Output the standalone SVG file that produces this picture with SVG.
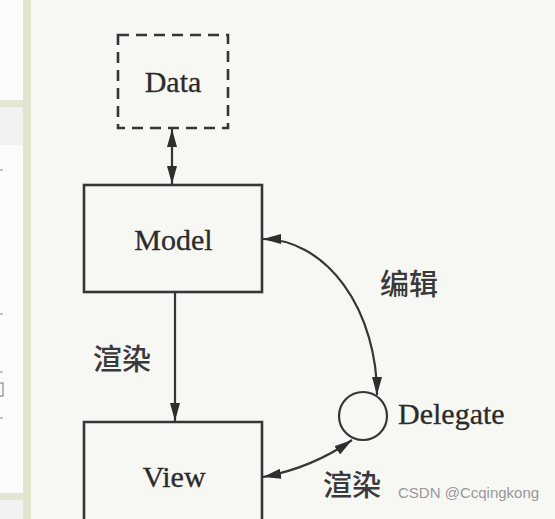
<svg xmlns="http://www.w3.org/2000/svg" width="555" height="519" viewBox="0 0 555 519">
  <style>
    .box{fill:none;stroke:#363636;stroke-width:2.6}
    .dash{fill:none;stroke:#363636;stroke-width:2.6;stroke-dasharray:11 7}
    .con{fill:none;stroke:#363636;stroke-width:2.2}
    .en{font-family:"Liberation Serif","Times New Roman",serif;font-size:30px;fill:#2b2b2b;stroke:#2b2b2b;stroke-width:0.3}
    .cjk{font-family:"Noto Sans CJK SC","Noto Sans CJK JP",sans-serif;font-size:29px;font-weight:500;fill:#3a3a3a}
    .wm{font-family:"Liberation Sans",Arial,sans-serif;font-size:15px;fill:#999}
    .tick{stroke:#888;stroke-width:1}
  </style>
  <defs>
    <marker id="ah" markerUnits="userSpaceOnUse" markerWidth="18" markerHeight="10" refX="18" refY="5" orient="auto-start-reverse">
      <path d="M0,0 L18,5 L0,10 z" fill="#2e2e2e"/>
    </marker>
  </defs>

  <!-- page background -->
  <rect x="0" y="0" width="555" height="519" fill="#f7f7f4"/>
  <rect x="0" y="0" width="23" height="519" fill="#fbfbfb"/>
  <rect x="0" y="100" width="23" height="7" fill="#e4e5d3"/>
  <rect x="0" y="107" width="23" height="38" fill="#f2f2f2"/>
  <rect x="0" y="493" width="23" height="7" fill="#e4e5d3"/>
  <rect x="0" y="500" width="23" height="19" fill="#f2f2f2"/>
  <rect x="23" y="0" width="8" height="519" fill="#e4e5cf"/>
  <g id="page-fragments">
    <line class="tick" x1="0" y1="170" x2="3" y2="170"/>
    <line class="tick" x1="0" y1="314" x2="3" y2="314"/>
    <line class="tick" x1="0" y1="372" x2="3" y2="372"/>
    <rect x="-1" y="383" width="4" height="13" fill="none" stroke="#777" stroke-width="1"/>
    <line class="tick" x1="0" y1="418" x2="3" y2="418"/>
  </g>

  <g id="connectors">
    <line class="con" x1="172" y1="129" x2="172" y2="184" marker-start="url(#ah)" marker-end="url(#ah)"/>
    <line class="con" x1="175" y1="293" x2="175" y2="421" marker-end="url(#ah)"/>
    <path class="con" d="M263,239 A114,156 0 0 1 377,395" marker-start="url(#ah)" marker-end="url(#ah)"/>
    <path class="con" d="M263,477 Q312,468 352,440" marker-start="url(#ah)" marker-end="url(#ah)"/>
  </g>

  <g id="data">
    <rect class="dash" x="118" y="35" width="110" height="93"/>
    <text class="en" x="173" y="92" text-anchor="middle">Data</text>
  </g>
  <g id="model">
    <rect class="box" x="84" y="185" width="178" height="107"/>
    <text class="en" x="173.5" y="250" text-anchor="middle">Model</text>
  </g>
  <g id="view">
    <path class="box" d="M84,525 V422 H262 V525"/>
    <text class="en" x="174" y="487" text-anchor="middle">View</text>
  </g>
  <g id="delegate">
    <circle cx="363" cy="416" r="24" fill="none" stroke="#363636" stroke-width="2.2"/>
    <text class="en" x="398" y="424">Delegate</text>
  </g>

  <g id="labels">
    <text class="cjk" x="93" y="370">渲染</text>
    <text class="cjk" x="380" y="295">编辑</text>
    <text class="cjk" x="323" y="496">渲染</text>
  </g>
  <text class="wm" x="398" y="498">CSDN @Ccqingkong</text>
</svg>
